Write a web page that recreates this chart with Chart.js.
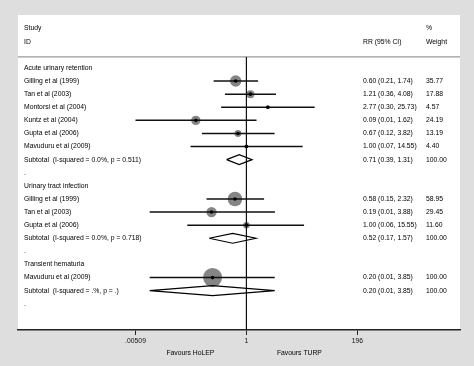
<!DOCTYPE html>
<html>
<head>
<meta charset="utf-8">
<script src="https://cdn.jsdelivr.net/npm/chart.js@4"></script>
<style>
    html, body { margin: 0; padding: 0; background: #dedede; }
    #wrap { width: 474px; height: 366px; }
</style>
</head>
<body>
<div id="wrap"><canvas id="forest" width="474" height="366"></canvas></div>
<script>
// Subgroups
const groupNames = ['Acute urinary retention', 'Urinary tract infection', 'Transient hematuria'];
const groupHet = ['I-squared = 0.0%, p = 0.511', 'I-squared = 0.0%, p = 0.718', 'I-squared = .%, p = .'];
const subRR = [0.71, 0.52, 0.20];
const subLow = [0.39, 0.17, 0.01];
const subHigh = [1.31, 1.57, 3.85];

// Studies
const studyNames = [
    'Gilling et al (1999)', 'Tan et al (2003)', 'Montorsi et al (2004)', 'Kuntz et al (2004)',
    'Gupta et al (2006)', 'Mavuduru et al (2009)',
    'Gilling et al (1999)', 'Tan et al (2003)', 'Gupta et al (2006)',
    'Mavuduru et al (2009)'
];
const studyGroup = [0, 0, 0, 0, 0, 0, 1, 1, 1, 2];
const studyRR = [0.60, 1.21, 2.77, 0.09, 0.67, 1.00, 0.58, 0.19, 1.00, 0.20];
const studyLow = [0.21, 0.36, 0.30, 0.0051, 0.12, 0.07, 0.15, 0.01, 0.06, 0.01];
const studyHigh = [1.74, 4.08, 25.73, 1.62, 3.82, 14.55, 2.32, 3.88, 15.55, 3.85];
const studyWeight = [35.77, 17.88, 4.57, 24.19, 13.19, 4.40, 58.95, 29.45, 11.60, 100.00];

// Axis
const tickValues = [1 / 196, 1, 196];
const tickLabels = ['.00509', '1', '196'];
const favourLabels = ['Favours HoLEP', 'Favours TURP'];

const FONT_FAMILY = '"Liberation Sans", Arial, sans-serif';
const FONT_SIZE = 6.8;
const X_MIN = 1.9e-5, X_MAX = 2.6e4;
const SEP_ROW = -0.84;

// build row layout: group header, studies, subtotal, blank
const rows = [];
groupNames.forEach((g, gi) => {
    rows.push({ kind: 'group', gi });
    studyNames.forEach((s, si) => {
        if (studyGroup[si] === gi) rows.push({ kind: 'study', si });
    });
    rows.push({ kind: 'sub', gi });
    rows.push({ kind: 'blank' });
});

const fmtCI = (r, l, h) => `${r.toFixed(2)} (${l.toFixed(2)}, ${h.toFixed(2)})`;

const datasets = [];
const bubbles = [];
const dots = [];

rows.forEach((row, ri) => {
    if (row.kind === 'study') {
        const i = row.si;
        datasets.push({
            type: 'line',
            data: [{ x: studyLow[i], y: ri }, { x: studyHigh[i], y: ri }],
            borderColor: '#111', borderWidth: 1.5, pointRadius: 0, order: 2
        });
        bubbles.push({ x: studyRR[i], y: ri, r: 0.95 * Math.sqrt(studyWeight[i]) });
        dots.push({ x: studyRR[i], y: ri });
    } else if (row.kind === 'sub') {
        const g = row.gi;
        datasets.push({
            type: 'line',
            data: [
                { x: subLow[g], y: ri }, { x: subRR[g], y: ri - 0.38 },
                { x: subHigh[g], y: ri }, { x: subRR[g], y: ri + 0.38 },
                { x: subLow[g], y: ri }
            ],
            borderColor: '#000', borderWidth: 1.2, pointRadius: 0, fill: false, order: 2
        });
    }
});

// null line and header rule
datasets.push({
    type: 'line',
    data: [{ x: 1, y: SEP_ROW }, { x: 1, y: 20 }],
    borderColor: '#111', borderWidth: 1.2, pointRadius: 0, order: 2
});
datasets.push({
    type: 'line',
    data: [{ x: X_MIN, y: SEP_ROW }, { x: X_MAX, y: SEP_ROW }],
    borderColor: '#999', borderWidth: 1.2, pointRadius: 0, order: 2
});
datasets.push({
    type: 'bubble', data: bubbles,
    backgroundColor: '#858585', borderWidth: 0, order: 3
});
datasets.push({
    type: 'scatter', data: dots,
    pointRadius: 1.8, backgroundColor: '#000', borderWidth: 0, order: 1
});

// white plot panel
const panelPlugin = {
    id: 'panel',
    beforeDraw(chart) {
        const a = chart.chartArea, ctx = chart.ctx;
        ctx.save();
        ctx.fillStyle = '#fff';
        ctx.fillRect(a.left, a.top, a.right - a.left, a.bottom - a.top);
        ctx.restore();
    }
};

// text columns
const textPlugin = {
    id: 'forestText',
    afterDraw(chart) {
        const ctx = chart.ctx, ys = chart.scales.y, xs = chart.scales.x;
        const colStudy = 24, colCI = 363, colW = 426;
        ctx.save();
        ctx.font = `${FONT_SIZE}px ${FONT_FAMILY}`;
        ctx.fillStyle = '#000';
        ctx.textBaseline = 'middle';
        ctx.textAlign = 'left';

        const put = (txt, x, row) => ctx.fillText(txt, x, ys.getPixelForValue(row));

        put('Study', colStudy, -3.05);
        put('ID', colStudy, -1.98);
        put('%', colW, -3.05);
        put('RR (95% CI)', colCI, -1.98);
        put('Weight', colW, -1.98);

        rows.forEach((row, ri) => {
            if (row.kind === 'group') {
                put(groupNames[row.gi], colStudy, ri);
            } else if (row.kind === 'study') {
                const i = row.si;
                put(studyNames[i], colStudy, ri);
                put(fmtCI(studyRR[i], studyLow[i], studyHigh[i]), colCI, ri);
                put(studyWeight[i].toFixed(2), colW, ri);
            } else if (row.kind === 'sub') {
                const g = row.gi;
                put(`Subtotal  (${groupHet[g]})`, colStudy, ri);
                put(fmtCI(subRR[g], subLow[g], subHigh[g]), colCI, ri);
                put('100.00', colW, ri);
            } else {
                put('.', colStudy, ri);
            }
        });

        // favours labels under the axis
        const x1 = xs.getPixelForValue(1);
        ctx.textAlign = 'center';
        ctx.fillText(favourLabels[0], x1 - 56, 353);
        ctx.fillText(favourLabels[1], x1 + 53, 353);
        ctx.restore();
    }
};

new Chart(document.getElementById('forest'), {
    type: 'scatter',
    data: { datasets },
    options: {
        responsive: false,
        devicePixelRatio: 1,
        animation: false,
        layout: { padding: { left: 18, right: 14, top: 15, bottom: 0 } },
        plugins: {
            legend: { display: false },
            tooltip: { enabled: false }
        },
        scales: {
            x: {
                type: 'logarithmic',
                min: X_MIN,
                max: X_MAX,
                afterBuildTicks: scale => {
                    scale.ticks = tickValues.map(v => ({ value: v }));
                },
                afterFit: scale => { scale.height = 36; },
                ticks: {
                    autoSkip: false,
                    maxRotation: 0,
                    padding: 2,
                    color: '#111',
                    font: { family: FONT_FAMILY, size: FONT_SIZE },
                    callback: (v, i) => tickLabels[i]
                },
                grid: {
                    display: true,
                    drawOnChartArea: false,
                    drawTicks: true,
                    tickLength: 5,
                    color: '#222'
                },
                border: { display: true, color: '#222', width: 1.5 }
            },
            y: {
                type: 'linear',
                display: false,
                reverse: true,
                min: -4.04,
                max: 20
            }
        }
    },
    plugins: [panelPlugin, textPlugin]
});
</script>
</body>
</html>
